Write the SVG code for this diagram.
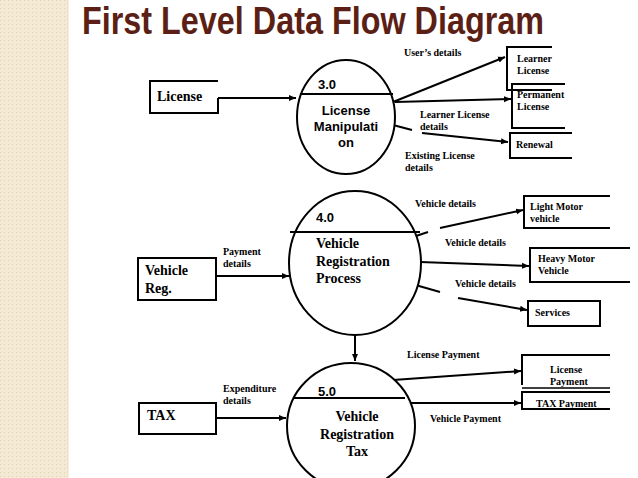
<svg xmlns="http://www.w3.org/2000/svg" width="638" height="478" viewBox="0 0 638 478">
<defs>
<marker id="ah" markerWidth="8" markerHeight="8" refX="7" refY="4" orient="auto" markerUnits="userSpaceOnUse"><path d="M0,1 L7,4 L0,7 z" fill="#000"/></marker>
<pattern id="dots" width="4" height="4" patternUnits="userSpaceOnUse"><rect width="4" height="4" fill="#f4ead4"/><rect width="1" height="1" fill="#e3d3b0"/></pattern>
</defs>
<style>
.l{stroke:#000;stroke-width:2;fill:none}
.c{stroke:#000;stroke-width:2;fill:#fff}
.s{font-family:"Liberation Serif",serif;font-weight:bold;font-size:10px;fill:#000}
.m{font-family:"Liberation Serif",serif;font-weight:bold;font-size:14px;fill:#000}
.n{font-family:"Liberation Sans",sans-serif;font-weight:bold;font-size:13px;fill:#000}
.f{stroke:#000;stroke-width:2;fill:none;marker-end:url(#ah)}
</style>
<rect width="638" height="478" fill="#fff"/>
<rect x="0" y="0" width="68" height="478" fill="url(#dots)"/>
<line x1="68" y1="0" x2="68" y2="478" stroke="#e8dcc0" stroke-width="1"/>
<text transform="translate(82,34) scale(1,1.25)" x="0" y="0" font-family="'Liberation Sans',sans-serif" font-weight="bold" font-size="31" fill="#5b1f16" textLength="462" lengthAdjust="spacingAndGlyphs">First Level Data Flow Diagram</text>

<g id="connectors">
<path class="f" d="M218,98 L296,98"/>
<path class="f" d="M393,102 L505,57"/>
<path class="f" d="M395,102 L511,99"/>
<path class="l" d="M393,125 L412,130"/>
<path class="f" d="M422,133 L508,142"/>
<path class="f" d="M216,276 L289,276"/>
<path class="l" d="M413,237 L428,232"/>
<path class="f" d="M440,228 L523,210"/>
<path class="f" d="M420,262 L529,266"/>
<path class="l" d="M412,284 L440,292"/>
<path class="f" d="M458,298 L527,310"/>
<path class="f" d="M355,335 L355,361"/>
<path class="f" d="M216,418 L286,418"/>
<path class="f" d="M393,380 L521,371"/>
<path class="f" d="M408,403 L521,403"/>
</g>

<g id="license"><path class="l" d="M218,98 L218,113 L150,113 L150,81 L218,81"/><text class="m" x="157" y="101">License</text></g>
<g id="p3"><ellipse class="c" cx="346" cy="117" rx="49" ry="57"/><line class="l" x1="300" y1="94" x2="393" y2="94"/>
<text class="n" x="318" y="89" font-size="14">3.0</text>
<text class="n" x="346" y="115" text-anchor="middle" font-weight="normal" font-size="11">License</text>
<text class="n" x="346" y="131" text-anchor="middle" font-weight="normal" font-size="11">Manipulati</text>
<text class="n" x="346" y="147" text-anchor="middle" font-weight="normal" font-size="11">on</text></g>
<g id="learner"><path class="l" d="M552,47 L507,47 L507,90 L552,90"/><text class="s" x="517" y="62">Learner</text><text class="s" x="517" y="74">License</text></g>
<g id="permanent"><path class="l" d="M565,84 L512,84 L512,128 L565,128"/><text class="s" x="517" y="98">Permanent</text><text class="s" x="517" y="110">License</text></g>
<g id="renewal"><path class="l" d="M572,133 L510,133 L510,158 L572,158"/><text class="s" x="516" y="148">Renewal</text></g>
<text class="s" x="404" y="56">User’s details</text>
<text class="s" x="420" y="118">Learner License</text><text class="s" x="420" y="130">details</text>
<text class="s" x="405" y="159">Existing License</text><text class="s" x="405" y="171">details</text>

<g id="vreg"><rect class="c" x="138" y="258" width="78" height="42"/><text class="m" x="145" y="275">Vehicle</text><text class="m" x="145" y="293">Reg.</text></g>
<text class="s" x="223" y="255">Payment</text><text class="s" x="223" y="267">details</text>
<g id="p4"><ellipse class="c" cx="355" cy="263" rx="66" ry="72"/><line class="l" x1="290" y1="232" x2="420" y2="232"/>
<text class="n" x="316" y="222">4.0</text>
<text class="m" x="316" y="248">Vehicle</text><text class="m" x="316" y="266">Registration</text><text class="m" x="316" y="283">Process</text></g>
<g id="lmv"><path class="l" d="M610,196 L524,196 L524,228 L610,228"/><text class="s" x="530" y="210">Light Motor</text><text class="s" x="530" y="222">vehicle</text></g>
<g id="hmv"><path class="l" d="M630,248 L530,248 L530,282 L630,282"/><text class="s" x="538" y="262">Heavy Motor</text><text class="s" x="538" y="274">Vehicle</text></g>
<g id="services"><rect class="l" x="528" y="301" width="72" height="25"/><text class="s" x="535" y="316">Services</text></g>
<text class="s" x="415" y="207">Vehicle details</text>
<text class="s" x="445" y="246">Vehicle details</text>
<text class="s" x="455" y="287">Vehicle details</text>

<g id="tax"><rect class="c" x="139" y="403" width="77" height="31"/><text class="m" x="147" y="420">TAX</text></g>
<text class="s" x="223" y="392">Expenditure</text><text class="s" x="223" y="404">details</text>
<g id="p5"><ellipse class="c" cx="351" cy="426" rx="64" ry="63"/><line class="l" x1="293" y1="398" x2="405" y2="398"/>
<text class="n" x="318" y="396">5.0</text>
<text class="m" x="357" y="421" text-anchor="middle">Vehicle</text><text class="m" x="357" y="439" text-anchor="middle">Registration</text><text class="m" x="357" y="456" text-anchor="middle">Tax</text></g>
<g id="lpay"><path class="l" d="M610,355 L522,355 L522,385"/><line x1="522" y1="388" x2="610" y2="388" stroke="#000" stroke-width="1.5"/><text class="s" x="550" y="373">License</text><text class="s" x="550" y="385">Payment</text></g>
<g id="tpay"><path class="l" d="M610,392 L522,392 L522,409 L610,409"/><text class="s" x="536" y="407">TAX Payment</text></g>
<text class="s" x="407" y="358">License Payment</text>
<text class="s" x="430" y="422">Vehicle Payment</text>
</svg>
